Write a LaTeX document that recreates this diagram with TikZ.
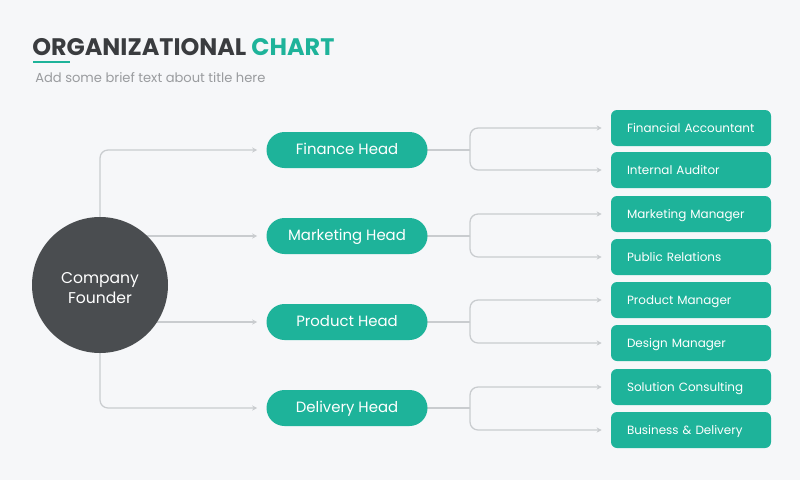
\documentclass[tikz,border=0pt]{standalone}
\usepackage{fontspec}
\setmainfont{Poppins}
\usetikzlibrary{arrows.meta,positioning}
\definecolor{bgc}{HTML}{F6F7F9}
\definecolor{teal}{HTML}{1EB39A}
\definecolor{dark}{HTML}{4A4D50}
\definecolor{ttl}{HTML}{3A3C3F}
\definecolor{sub}{HTML}{9A9C9F}
\definecolor{lnc}{HTML}{C9CCCF}
\newlength\upx
\setlength\upx{0.025cm}
\pgfdeclarelayer{back}
\pgfdeclarelayer{mid}
\pgfsetlayers{back,mid,main}
\begin{document}
\begin{tikzpicture}[x=0.025cm,y=-0.025cm,
  head/.style={fill=teal,text=white,rounded corners=18\upx,minimum width=161\upx,minimum height=36\upx,inner sep=0pt,text height=0.7em,text depth=0pt,font=\fontsize{10.6pt}{12pt}\selectfont},
  sbox/.style={fill=teal,text=white,rounded corners=6\upx,minimum width=160\upx,minimum height=36\upx,inner ysep=0pt,inner xsep=16\upx,text width=128\upx,text height=0.7em,text depth=0pt,align=left,font=\fontsize{8.5pt}{10pt}\selectfont},
  conn/.style={draw=lnc,line width=0.9pt,rounded corners=5.7pt,-{Stealth[length=3.6pt,width=3.6pt]},shorten >=6.4pt}]
\begin{pgfonlayer}{back}
\fill[bgc] (0,0) rectangle (800,480);
\end{pgfonlayer}
\useasboundingbox (0,0) rectangle (800,480);
% title
\node[anchor=base west,inner sep=0pt,text=ttl,font=\fontsize{17pt}{18pt}\selectfont\bfseries] (title) at (32,55) {ORGANIZATIONAL \textcolor{teal}{CHART}};
\draw[teal,line width=1.6pt] (33,62) -- (70,62);
\node[anchor=base west,inner sep=0pt,text=sub,font=\fontsize{9.3pt}{11pt}\selectfont] (subt) at (35,82) {Add some brief text about title here};
% founder
\node[circle,fill=dark,minimum size=136\upx,inner sep=0pt] (cf) at (100,285) {};
\node[text=white,align=center,inner sep=0pt,font=\fontsize{11.1pt}{14.5pt}\selectfont] (cft) at (100,288) {Company\\Founder};
% heads
\node[head] (fh) at (347,150) {Finance Head};
\node[head] (mh) at (347,236) {Marketing Head};
\node[head] (ph) at (347,322) {Product Head};
\node[head] (dh) at (347,408) {Delivery Head};
% boxes
\node[sbox] (b1) at (691,128) {Financial Accountant};
\node[sbox] (b2) at (691,170) {Internal Auditor};
\node[sbox] (b3) at (691,214) {Marketing Manager};
\node[sbox] (b4) at (691,257) {Public Relations};
\node[sbox] (b5) at (691,300) {Product Manager};
\node[sbox] (b6) at (691,343) {Design Manager};
\node[sbox] (b7) at (691,387) {Solution Consulting};
\node[sbox] (b8) at (691,430) {Business \& Delivery};
% junctions
\coordinate (j1) at (470,150);
\coordinate (j2) at (470,236);
\coordinate (j3) at (470,322);
\coordinate (j4) at (470,408);
\begin{pgfonlayer}{mid}
\draw[conn] (cf.center) |- (fh.west);
\draw[conn] (cf.center |- mh.west) -- (mh.west);
\draw[conn] (cf.center |- ph.west) -- (ph.west);
\draw[conn] (cf.center) |- (dh.west);
\foreach \h/\j/\u/\d in {fh/j1/b1/b2, mh/j2/b3/b4, ph/j3/b5/b6, dh/j4/b7/b8}{
  \draw[draw=lnc,line width=0.9pt] (\h.center) -- (\j);
  \draw[conn] (\j) |- (\u.west);
  \draw[conn] (\j) |- (\d.west);
}
\end{pgfonlayer}
\end{tikzpicture}
\end{document}
